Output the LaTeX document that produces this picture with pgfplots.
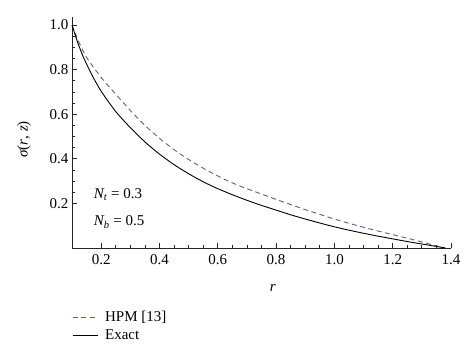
\documentclass[border=0pt]{standalone}
\usepackage{pgfplots}
\pgfplotsset{compat=1.18}
\usepackage{fontspec}
\setmainfont{Liberation Serif}
\definecolor{hpm}{RGB}{95,95,145}
\begin{document}
\begin{tikzpicture}
\path[use as bounding box] (-72pt,-116pt) rectangle (402pt,248pt);
\begin{axis}[
  at={(0pt,0pt)}, anchor=south west,
  scale only axis, width=379pt, height=231pt,
  xmin=0.1, xmax=1.4, ymin=0, ymax=1.036,
  axis x line=bottom, axis y line=left,
  axis line style={-, line width=0.8pt, black!85},
  xtick={0.2,0.4,...,1.41}, ytick={0.2,0.4,0.6,0.8,1.0},
  minor x tick num=3, minor y tick num=3,
  tick align=inside,
  major tick length=5pt, minor tick length=3pt,
  tick style={line width=0.7pt, black!85},
  xticklabel style={/pgf/number format/.cd, fixed, fixed zerofill, precision=1},
  yticklabel style={/pgf/number format/.cd, fixed, fixed zerofill, precision=1},
  xticklabel shift=3pt,
  /pgf/number format/assume math mode=true,
  ticklabel style={font=\fontsize{15}{17}\selectfont},
  clip=false,
  legend style={at={(0,-0.255)}, anchor=north west, draw=none, fill=none,
    font=\fontsize{15}{17}\selectfont, row sep=3pt, inner xsep=0pt},
  legend cell align=left,
  legend image code/.code={\draw[#1] (0pt,0pt) -- (25pt,0pt); \path (30pt,0pt);},
]
\addplot[hpm, line width=0.9pt, dash pattern=on 5pt off 3.5pt, smooth, tension=0.4] coordinates {
(0.10,1.00)(0.125,0.92)(0.15,0.855)(0.20,0.765)(0.25,0.69)(0.30,0.617)
(0.35,0.550)(0.40,0.492)(0.45,0.441)(0.50,0.397)(0.55,0.358)(0.60,0.323)
(0.65,0.292)(0.70,0.266)(0.75,0.242)(0.80,0.218)(0.85,0.195)(0.90,0.172)
(0.95,0.151)(1.00,0.130)(1.05,0.111)(1.10,0.093)(1.15,0.076)(1.20,0.060)
(1.25,0.044)(1.30,0.027)(1.35,0.010)(1.38,0.0)};
\addlegendentry{HPM [13]}
\addplot[black, line width=0.9pt, smooth, tension=0.4] coordinates {
(0.10,1.00)(0.12,0.92)(0.14,0.853)(0.17,0.772)(0.20,0.703)(0.25,0.612)
(0.30,0.540)(0.35,0.476)(0.40,0.421)(0.45,0.374)(0.50,0.333)(0.55,0.297)
(0.60,0.266)(0.65,0.239)(0.70,0.214)(0.75,0.191)(0.80,0.170)(0.85,0.149)
(0.90,0.130)(0.95,0.112)(1.00,0.095)(1.05,0.080)(1.10,0.066)(1.15,0.053)
(1.20,0.041)(1.25,0.029)(1.30,0.018)(1.35,0.007)(1.38,0.0)};
\addlegendentry{Exact}
\node[font=\fontsize{15}{17}\selectfont, anchor=west] at (axis cs:0.163,0.238) {{\itshape N}\textsubscript{\itshape t} = 0.3};
\node[font=\fontsize{15}{17}\selectfont, anchor=west] at (axis cs:0.163,0.116) {{\itshape N}\textsubscript{\itshape b} = 0.5};
\node[font=\fontsize{15}{17}\selectfont, rotate=90] at (rel axis cs:0,0.47) [yshift=48pt] {{\itshape σ}({\itshape r}, {\itshape z})};
\node[font=\fontsize{15}{17}\selectfont] at (rel axis cs:0.53,0) [yshift=-40pt] {\itshape r};
\end{axis}
\end{tikzpicture}
\end{document}
